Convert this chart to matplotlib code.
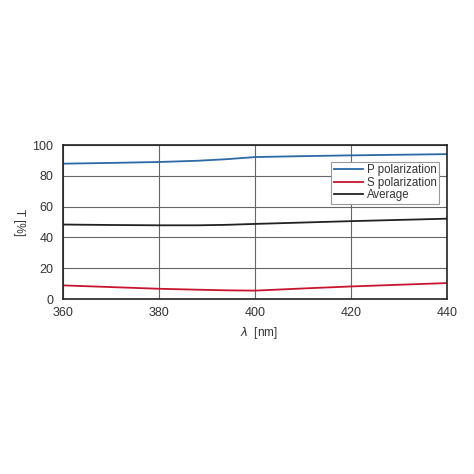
import matplotlib
matplotlib.use('Agg')
import matplotlib.pyplot as plt

plt.rcParams['font.family'] = ['Liberation Sans', 'DejaVu Sans']

# wavelength samples [nm]
wl = [360, 370, 380, 388, 394, 400, 410, 420, 430, 440]
# transmission [%]
p_pol = [87.9, 88.4, 89.0, 89.8, 90.8, 92.2, 92.8, 93.3, 93.7, 94.1]
s_pol = [8.9, 7.8, 6.7, 6.1, 5.7, 5.5, 6.9, 8.2, 9.3, 10.4]
avg = [48.4, 48.1, 47.9, 47.9, 48.2, 48.8, 49.7, 50.6, 51.4, 52.2]

fig = plt.figure(figsize=(4.74, 4.74), dpi=100)
ax = fig.add_axes([0.133, 0.369, 0.810, 0.325])

ax.plot(wl, p_pol, color='#2b6aa6', lw=1.3, label='P polarization')
ax.plot(wl, s_pol, color='#c8152f', lw=1.3, label='S polarization')
ax.plot(wl, avg, color='#222222', lw=1.3, label='Average')

ax.set_xlim(360, 440)
ax.set_ylim(0, 100)
ax.set_xticks([360, 380, 400, 420, 440])
ax.set_yticks([0, 20, 40, 60, 80, 100])
ax.grid(True, color='#666666', lw=0.8)
ax.set_axisbelow(True)
ax.tick_params(length=0, labelsize=9, labelcolor='#333333')
ax.tick_params(axis='x', pad=6)
ax.tick_params(axis='y', pad=7)
for s in ax.spines.values():
    s.set_linewidth(1.2)
    s.set_color('#222222')

ax.set_xlabel(r'$\lambda$  [nm]', fontsize=8.5, labelpad=4, x=0.51, color='#333333')
ax.set_ylabel('T [%]', fontsize=8.5, rotation=270, labelpad=14, va='bottom',
              color='#333333')

leg = ax.legend(loc='upper right', fontsize=8.3, fancybox=False, framealpha=1,
                edgecolor='#999999', handlelength=2.5, handletextpad=0.3,
                borderpad=0.25, labelspacing=0.02, bbox_to_anchor=(0.995, 0.93))
leg.get_frame().set_linewidth(0.8)
for t in leg.get_texts():
    t.set_color('#333333')

fig.savefig('out.png', dpi=100)
